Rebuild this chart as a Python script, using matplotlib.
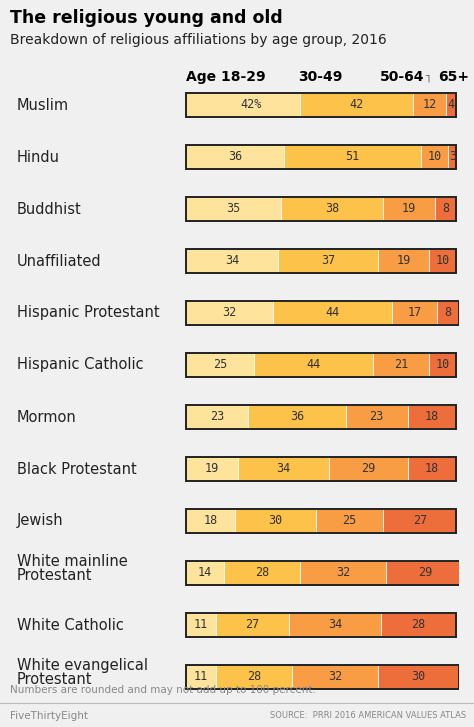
import matplotlib
matplotlib.use("Agg")
import matplotlib.pyplot as plt

groups = ["Muslim", "Hindu", "Buddhist", "Unaffiliated", "Hispanic Protestant",
          "Hispanic Catholic", "Mormon", "Black Protestant", "Jewish",
          "White mainline\nProtestant", "White Catholic", "White evangelical\nProtestant"]
age_18_29 = [42, 36, 35, 34, 32, 25, 23, 19, 18, 14, 11, 11]
age_30_49 = [42, 51, 38, 37, 44, 44, 36, 34, 30, 28, 27, 28]
age_50_64 = [12, 10, 19, 19, 17, 21, 23, 29, 25, 32, 34, 32]
age_65p = [4, 3, 8, 10, 8, 10, 18, 18, 27, 29, 28, 30]
series_names = ["Age 18-29", "30-49", "50-64", "65+"]
colors = ["#fee39c", "#fdc24a", "#f99d45", "#ee6e3b"]

bg = "#f0f0f0"
fig = plt.figure(figsize=(4.74, 7.27), dpi=100, facecolor=bg)
ax = fig.add_axes([185/474, 1-703/727, 274/474, (703-79)/727])
ax.set_facecolor(bg)
series = [age_18_29, age_30_49, age_50_64, age_65p]
n = len(groups)
for i in range(n):
    left = 0
    for s, c in zip(series, colors):
        v = s[i]
        ax.barh(i, v, left=left, height=0.46, color=c, edgecolor="white", linewidth=0.6)
        first = (i == 0 and s is age_18_29)
        lab = f"{v}%" if first else str(v)
        ax.text(left + v/2 + (3 if first else 0), i, lab, ha="center", va="center",
                fontsize=8.5, family="DejaVu Sans Mono", color="#333333")
        left += v
    ax.barh(i, left, height=0.46, fill=False, edgecolor="#222222", linewidth=1.4)
ax.set_ylim(n - 0.5, -0.5)
ax.set_xlim(-0.5, 101)
ax.axis("off")

for i, g in enumerate(groups):
    y = ax.transData.transform((0, i))[1] / 727
    fig.text(17/474, y + (0.006 if "\n" in g else 0), g, ha="left", va="center",
             fontsize=10.5, color="#222222", linespacing=0.95)

hy = 1 - 77/727
fig.text(186/474, hy, "Age 18-29", fontsize=10, fontweight="bold", va="center", ha="left")
fig.text(320/474, hy, "30-49", fontsize=10, fontweight="bold", va="center", ha="center")
fig.text(402/474, hy, "50-64", fontsize=10, fontweight="bold", va="center", ha="center")
fig.text(454/474, hy, "65+", fontsize=10, fontweight="bold", va="center", ha="center")
fig.text(428/474, hy - 0.003, "\u02e5", fontsize=8, va="center", ha="center", color="#444444")

fig.text(10/474, 1-18/727, "The religious young and old", fontsize=12.5, fontweight="bold", va="center")
fig.text(10/474, 1-40/727, "Breakdown of religious affiliations by age group, 2016", fontsize=10, va="center", color="#222222")
fig.text(10/474, 1-690/727, "Numbers are rounded and may not add up to 100 percent.", fontsize=7.5, color="#888888", va="center")
fig.add_artist(plt.Line2D([0, 1], [1-703/727]*2, color="#bbbbbb", lw=0.8))
fig.text(10/474, 1-716/727, "FiveThirtyEight", fontsize=7.5, color="#888888", va="center")
fig.text(466/474, 1-716/727, "SOURCE:  PRRI 2016 AMERICAN VALUES ATLAS", fontsize=6, color="#888888", va="center", ha="right")
fig.savefig("out.png", dpi=100, facecolor=bg)
